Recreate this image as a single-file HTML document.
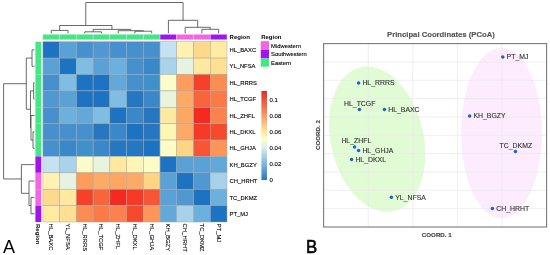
<!DOCTYPE html>
<html><head><meta charset="utf-8"><style>
html,body{margin:0;padding:0;background:#fff;}
body{width:550px;height:255px;overflow:hidden;font-family:"Liberation Sans",sans-serif;}
svg{display:block;position:absolute;left:0;top:0;will-change:transform;}
</style></head><body>
<svg width="550" height="255" viewBox="0 0 550 255">
<rect x="42.90" y="41.70" width="16.74" height="16.39" fill="#1c73c2" stroke="#a8a8a8" stroke-width="0.5"/>
<rect x="59.64" y="41.70" width="16.74" height="16.39" fill="#5aa2d6" stroke="#a8a8a8" stroke-width="0.5"/>
<rect x="76.37" y="41.70" width="16.74" height="16.39" fill="#4690cd" stroke="#a8a8a8" stroke-width="0.5"/>
<rect x="93.11" y="41.70" width="16.74" height="16.39" fill="#4f98d1" stroke="#a8a8a8" stroke-width="0.5"/>
<rect x="109.85" y="41.70" width="16.74" height="16.39" fill="#4690cd" stroke="#a8a8a8" stroke-width="0.5"/>
<rect x="126.58" y="41.70" width="16.74" height="16.39" fill="#4690cd" stroke="#a8a8a8" stroke-width="0.5"/>
<rect x="143.32" y="41.70" width="16.74" height="16.39" fill="#4690cd" stroke="#a8a8a8" stroke-width="0.5"/>
<rect x="160.05" y="41.70" width="16.74" height="16.39" fill="#c4e2f2" stroke="#a8a8a8" stroke-width="0.5"/>
<rect x="176.79" y="41.70" width="16.74" height="16.39" fill="#fff2b0" stroke="#a8a8a8" stroke-width="0.5"/>
<rect x="193.53" y="41.70" width="16.74" height="16.39" fill="#fed98a" stroke="#a8a8a8" stroke-width="0.5"/>
<rect x="210.26" y="41.70" width="16.74" height="16.39" fill="#ffeca2" stroke="#a8a8a8" stroke-width="0.5"/>
<rect x="42.90" y="58.09" width="16.74" height="16.39" fill="#5aa2d6" stroke="#a8a8a8" stroke-width="0.5"/>
<rect x="59.64" y="58.09" width="16.74" height="16.39" fill="#1c73c2" stroke="#a8a8a8" stroke-width="0.5"/>
<rect x="76.37" y="58.09" width="16.74" height="16.39" fill="#80bde3" stroke="#a8a8a8" stroke-width="0.5"/>
<rect x="93.11" y="58.09" width="16.74" height="16.39" fill="#5aa2d6" stroke="#a8a8a8" stroke-width="0.5"/>
<rect x="109.85" y="58.09" width="16.74" height="16.39" fill="#6cb0dd" stroke="#a8a8a8" stroke-width="0.5"/>
<rect x="126.58" y="58.09" width="16.74" height="16.39" fill="#4690cd" stroke="#a8a8a8" stroke-width="0.5"/>
<rect x="143.32" y="58.09" width="16.74" height="16.39" fill="#3a88c8" stroke="#a8a8a8" stroke-width="0.5"/>
<rect x="160.05" y="58.09" width="16.74" height="16.39" fill="#a9d3ea" stroke="#a8a8a8" stroke-width="0.5"/>
<rect x="176.79" y="58.09" width="16.74" height="16.39" fill="#e6f3e0" stroke="#a8a8a8" stroke-width="0.5"/>
<rect x="193.53" y="58.09" width="16.74" height="16.39" fill="#ffe8a0" stroke="#a8a8a8" stroke-width="0.5"/>
<rect x="210.26" y="58.09" width="16.74" height="16.39" fill="#fee094" stroke="#a8a8a8" stroke-width="0.5"/>
<rect x="42.90" y="74.48" width="16.74" height="16.39" fill="#4690cd" stroke="#a8a8a8" stroke-width="0.5"/>
<rect x="59.64" y="74.48" width="16.74" height="16.39" fill="#80bde3" stroke="#a8a8a8" stroke-width="0.5"/>
<rect x="76.37" y="74.48" width="16.74" height="16.39" fill="#1c73c2" stroke="#a8a8a8" stroke-width="0.5"/>
<rect x="93.11" y="74.48" width="16.74" height="16.39" fill="#1c73c2" stroke="#a8a8a8" stroke-width="0.5"/>
<rect x="109.85" y="74.48" width="16.74" height="16.39" fill="#62a8d9" stroke="#a8a8a8" stroke-width="0.5"/>
<rect x="126.58" y="74.48" width="16.74" height="16.39" fill="#4690cd" stroke="#a8a8a8" stroke-width="0.5"/>
<rect x="143.32" y="74.48" width="16.74" height="16.39" fill="#4090ca" stroke="#a8a8a8" stroke-width="0.5"/>
<rect x="160.05" y="74.48" width="16.74" height="16.39" fill="#fafcca" stroke="#a8a8a8" stroke-width="0.5"/>
<rect x="176.79" y="74.48" width="16.74" height="16.39" fill="#fd9c5c" stroke="#a8a8a8" stroke-width="0.5"/>
<rect x="193.53" y="74.48" width="16.74" height="16.39" fill="#f5402a" stroke="#a8a8a8" stroke-width="0.5"/>
<rect x="210.26" y="74.48" width="16.74" height="16.39" fill="#fc8d52" stroke="#a8a8a8" stroke-width="0.5"/>
<rect x="42.90" y="90.87" width="16.74" height="16.39" fill="#4f98d1" stroke="#a8a8a8" stroke-width="0.5"/>
<rect x="59.64" y="90.87" width="16.74" height="16.39" fill="#5aa2d6" stroke="#a8a8a8" stroke-width="0.5"/>
<rect x="76.37" y="90.87" width="16.74" height="16.39" fill="#1c73c2" stroke="#a8a8a8" stroke-width="0.5"/>
<rect x="93.11" y="90.87" width="16.74" height="16.39" fill="#1c73c2" stroke="#a8a8a8" stroke-width="0.5"/>
<rect x="109.85" y="90.87" width="16.74" height="16.39" fill="#80bde3" stroke="#a8a8a8" stroke-width="0.5"/>
<rect x="126.58" y="90.87" width="16.74" height="16.39" fill="#2677c1" stroke="#a8a8a8" stroke-width="0.5"/>
<rect x="143.32" y="90.87" width="16.74" height="16.39" fill="#3a88c8" stroke="#a8a8a8" stroke-width="0.5"/>
<rect x="160.05" y="90.87" width="16.74" height="16.39" fill="#e8f4dc" stroke="#a8a8a8" stroke-width="0.5"/>
<rect x="176.79" y="90.87" width="16.74" height="16.39" fill="#fdaa66" stroke="#a8a8a8" stroke-width="0.5"/>
<rect x="193.53" y="90.87" width="16.74" height="16.39" fill="#f9643a" stroke="#a8a8a8" stroke-width="0.5"/>
<rect x="210.26" y="90.87" width="16.74" height="16.39" fill="#fb7a48" stroke="#a8a8a8" stroke-width="0.5"/>
<rect x="42.90" y="107.26" width="16.74" height="16.39" fill="#4690cd" stroke="#a8a8a8" stroke-width="0.5"/>
<rect x="59.64" y="107.26" width="16.74" height="16.39" fill="#6cb0dd" stroke="#a8a8a8" stroke-width="0.5"/>
<rect x="76.37" y="107.26" width="16.74" height="16.39" fill="#62a8d9" stroke="#a8a8a8" stroke-width="0.5"/>
<rect x="93.11" y="107.26" width="16.74" height="16.39" fill="#80bde3" stroke="#a8a8a8" stroke-width="0.5"/>
<rect x="109.85" y="107.26" width="16.74" height="16.39" fill="#1c73c2" stroke="#a8a8a8" stroke-width="0.5"/>
<rect x="126.58" y="107.26" width="16.74" height="16.39" fill="#3a88c8" stroke="#a8a8a8" stroke-width="0.5"/>
<rect x="143.32" y="107.26" width="16.74" height="16.39" fill="#2677c1" stroke="#a8a8a8" stroke-width="0.5"/>
<rect x="160.05" y="107.26" width="16.74" height="16.39" fill="#ffe9a0" stroke="#a8a8a8" stroke-width="0.5"/>
<rect x="176.79" y="107.26" width="16.74" height="16.39" fill="#fda763" stroke="#a8a8a8" stroke-width="0.5"/>
<rect x="193.53" y="107.26" width="16.74" height="16.39" fill="#f42a20" stroke="#a8a8a8" stroke-width="0.5"/>
<rect x="210.26" y="107.26" width="16.74" height="16.39" fill="#fb824c" stroke="#a8a8a8" stroke-width="0.5"/>
<rect x="42.90" y="123.65" width="16.74" height="16.39" fill="#4690cd" stroke="#a8a8a8" stroke-width="0.5"/>
<rect x="59.64" y="123.65" width="16.74" height="16.39" fill="#4690cd" stroke="#a8a8a8" stroke-width="0.5"/>
<rect x="76.37" y="123.65" width="16.74" height="16.39" fill="#4690cd" stroke="#a8a8a8" stroke-width="0.5"/>
<rect x="93.11" y="123.65" width="16.74" height="16.39" fill="#2677c1" stroke="#a8a8a8" stroke-width="0.5"/>
<rect x="109.85" y="123.65" width="16.74" height="16.39" fill="#3a88c8" stroke="#a8a8a8" stroke-width="0.5"/>
<rect x="126.58" y="123.65" width="16.74" height="16.39" fill="#1c73c2" stroke="#a8a8a8" stroke-width="0.5"/>
<rect x="143.32" y="123.65" width="16.74" height="16.39" fill="#2677c1" stroke="#a8a8a8" stroke-width="0.5"/>
<rect x="160.05" y="123.65" width="16.74" height="16.39" fill="#fff6b4" stroke="#a8a8a8" stroke-width="0.5"/>
<rect x="176.79" y="123.65" width="16.74" height="16.39" fill="#fdaa66" stroke="#a8a8a8" stroke-width="0.5"/>
<rect x="193.53" y="123.65" width="16.74" height="16.39" fill="#f63a26" stroke="#a8a8a8" stroke-width="0.5"/>
<rect x="210.26" y="123.65" width="16.74" height="16.39" fill="#f64a2c" stroke="#a8a8a8" stroke-width="0.5"/>
<rect x="42.90" y="140.05" width="16.74" height="16.39" fill="#4690cd" stroke="#a8a8a8" stroke-width="0.5"/>
<rect x="59.64" y="140.05" width="16.74" height="16.39" fill="#3a88c8" stroke="#a8a8a8" stroke-width="0.5"/>
<rect x="76.37" y="140.05" width="16.74" height="16.39" fill="#4090ca" stroke="#a8a8a8" stroke-width="0.5"/>
<rect x="93.11" y="140.05" width="16.74" height="16.39" fill="#3a88c8" stroke="#a8a8a8" stroke-width="0.5"/>
<rect x="109.85" y="140.05" width="16.74" height="16.39" fill="#2677c1" stroke="#a8a8a8" stroke-width="0.5"/>
<rect x="126.58" y="140.05" width="16.74" height="16.39" fill="#2677c1" stroke="#a8a8a8" stroke-width="0.5"/>
<rect x="143.32" y="140.05" width="16.74" height="16.39" fill="#1c73c2" stroke="#a8a8a8" stroke-width="0.5"/>
<rect x="160.05" y="140.05" width="16.74" height="16.39" fill="#fdfcc4" stroke="#a8a8a8" stroke-width="0.5"/>
<rect x="176.79" y="140.05" width="16.74" height="16.39" fill="#fed585" stroke="#a8a8a8" stroke-width="0.5"/>
<rect x="193.53" y="140.05" width="16.74" height="16.39" fill="#f75535" stroke="#a8a8a8" stroke-width="0.5"/>
<rect x="210.26" y="140.05" width="16.74" height="16.39" fill="#fc9658" stroke="#a8a8a8" stroke-width="0.5"/>
<rect x="42.90" y="156.44" width="16.74" height="16.39" fill="#c4e2f2" stroke="#a8a8a8" stroke-width="0.5"/>
<rect x="59.64" y="156.44" width="16.74" height="16.39" fill="#a9d3ea" stroke="#a8a8a8" stroke-width="0.5"/>
<rect x="76.37" y="156.44" width="16.74" height="16.39" fill="#fafcca" stroke="#a8a8a8" stroke-width="0.5"/>
<rect x="93.11" y="156.44" width="16.74" height="16.39" fill="#e8f4dc" stroke="#a8a8a8" stroke-width="0.5"/>
<rect x="109.85" y="156.44" width="16.74" height="16.39" fill="#ffe9a0" stroke="#a8a8a8" stroke-width="0.5"/>
<rect x="126.58" y="156.44" width="16.74" height="16.39" fill="#fff6b4" stroke="#a8a8a8" stroke-width="0.5"/>
<rect x="143.32" y="156.44" width="16.74" height="16.39" fill="#fdfcc4" stroke="#a8a8a8" stroke-width="0.5"/>
<rect x="160.05" y="156.44" width="16.74" height="16.39" fill="#1c73c2" stroke="#a8a8a8" stroke-width="0.5"/>
<rect x="176.79" y="156.44" width="16.74" height="16.39" fill="#5aa2d6" stroke="#a8a8a8" stroke-width="0.5"/>
<rect x="193.53" y="156.44" width="16.74" height="16.39" fill="#5aa2d6" stroke="#a8a8a8" stroke-width="0.5"/>
<rect x="210.26" y="156.44" width="16.74" height="16.39" fill="#62a8d9" stroke="#a8a8a8" stroke-width="0.5"/>
<rect x="42.90" y="172.83" width="16.74" height="16.39" fill="#fff2b0" stroke="#a8a8a8" stroke-width="0.5"/>
<rect x="59.64" y="172.83" width="16.74" height="16.39" fill="#e6f3e0" stroke="#a8a8a8" stroke-width="0.5"/>
<rect x="76.37" y="172.83" width="16.74" height="16.39" fill="#fd9c5c" stroke="#a8a8a8" stroke-width="0.5"/>
<rect x="93.11" y="172.83" width="16.74" height="16.39" fill="#fdaa66" stroke="#a8a8a8" stroke-width="0.5"/>
<rect x="109.85" y="172.83" width="16.74" height="16.39" fill="#fda763" stroke="#a8a8a8" stroke-width="0.5"/>
<rect x="126.58" y="172.83" width="16.74" height="16.39" fill="#fdaa66" stroke="#a8a8a8" stroke-width="0.5"/>
<rect x="143.32" y="172.83" width="16.74" height="16.39" fill="#fed585" stroke="#a8a8a8" stroke-width="0.5"/>
<rect x="160.05" y="172.83" width="16.74" height="16.39" fill="#5aa2d6" stroke="#a8a8a8" stroke-width="0.5"/>
<rect x="176.79" y="172.83" width="16.74" height="16.39" fill="#1c73c2" stroke="#a8a8a8" stroke-width="0.5"/>
<rect x="193.53" y="172.83" width="16.74" height="16.39" fill="#4f98d1" stroke="#a8a8a8" stroke-width="0.5"/>
<rect x="210.26" y="172.83" width="16.74" height="16.39" fill="#a6d2ea" stroke="#a8a8a8" stroke-width="0.5"/>
<rect x="42.90" y="189.22" width="16.74" height="16.39" fill="#fed98a" stroke="#a8a8a8" stroke-width="0.5"/>
<rect x="59.64" y="189.22" width="16.74" height="16.39" fill="#ffe8a0" stroke="#a8a8a8" stroke-width="0.5"/>
<rect x="76.37" y="189.22" width="16.74" height="16.39" fill="#f5402a" stroke="#a8a8a8" stroke-width="0.5"/>
<rect x="93.11" y="189.22" width="16.74" height="16.39" fill="#f9643a" stroke="#a8a8a8" stroke-width="0.5"/>
<rect x="109.85" y="189.22" width="16.74" height="16.39" fill="#f42a20" stroke="#a8a8a8" stroke-width="0.5"/>
<rect x="126.58" y="189.22" width="16.74" height="16.39" fill="#f63a26" stroke="#a8a8a8" stroke-width="0.5"/>
<rect x="143.32" y="189.22" width="16.74" height="16.39" fill="#f75535" stroke="#a8a8a8" stroke-width="0.5"/>
<rect x="160.05" y="189.22" width="16.74" height="16.39" fill="#5aa2d6" stroke="#a8a8a8" stroke-width="0.5"/>
<rect x="176.79" y="189.22" width="16.74" height="16.39" fill="#4f98d1" stroke="#a8a8a8" stroke-width="0.5"/>
<rect x="193.53" y="189.22" width="16.74" height="16.39" fill="#1c73c2" stroke="#a8a8a8" stroke-width="0.5"/>
<rect x="210.26" y="189.22" width="16.74" height="16.39" fill="#6cb0dd" stroke="#a8a8a8" stroke-width="0.5"/>
<rect x="42.90" y="205.61" width="16.74" height="16.39" fill="#ffeca2" stroke="#a8a8a8" stroke-width="0.5"/>
<rect x="59.64" y="205.61" width="16.74" height="16.39" fill="#fee094" stroke="#a8a8a8" stroke-width="0.5"/>
<rect x="76.37" y="205.61" width="16.74" height="16.39" fill="#fc8d52" stroke="#a8a8a8" stroke-width="0.5"/>
<rect x="93.11" y="205.61" width="16.74" height="16.39" fill="#fb7a48" stroke="#a8a8a8" stroke-width="0.5"/>
<rect x="109.85" y="205.61" width="16.74" height="16.39" fill="#fb824c" stroke="#a8a8a8" stroke-width="0.5"/>
<rect x="126.58" y="205.61" width="16.74" height="16.39" fill="#f64a2c" stroke="#a8a8a8" stroke-width="0.5"/>
<rect x="143.32" y="205.61" width="16.74" height="16.39" fill="#fc9658" stroke="#a8a8a8" stroke-width="0.5"/>
<rect x="160.05" y="205.61" width="16.74" height="16.39" fill="#62a8d9" stroke="#a8a8a8" stroke-width="0.5"/>
<rect x="176.79" y="205.61" width="16.74" height="16.39" fill="#a6d2ea" stroke="#a8a8a8" stroke-width="0.5"/>
<rect x="193.53" y="205.61" width="16.74" height="16.39" fill="#6cb0dd" stroke="#a8a8a8" stroke-width="0.5"/>
<rect x="210.26" y="205.61" width="16.74" height="16.39" fill="#1c73c2" stroke="#a8a8a8" stroke-width="0.5"/>
<rect x="42.90" y="34.3" width="16.74" height="5.5" fill="#42e884" stroke="#e8e8e8" stroke-width="0.4"/>
<rect x="59.64" y="34.3" width="16.74" height="5.5" fill="#42e884" stroke="#e8e8e8" stroke-width="0.4"/>
<rect x="76.37" y="34.3" width="16.74" height="5.5" fill="#42e884" stroke="#e8e8e8" stroke-width="0.4"/>
<rect x="93.11" y="34.3" width="16.74" height="5.5" fill="#42e884" stroke="#e8e8e8" stroke-width="0.4"/>
<rect x="109.85" y="34.3" width="16.74" height="5.5" fill="#42e884" stroke="#e8e8e8" stroke-width="0.4"/>
<rect x="126.58" y="34.3" width="16.74" height="5.5" fill="#42e884" stroke="#e8e8e8" stroke-width="0.4"/>
<rect x="143.32" y="34.3" width="16.74" height="5.5" fill="#42e884" stroke="#e8e8e8" stroke-width="0.4"/>
<rect x="160.05" y="34.3" width="16.74" height="5.5" fill="#a114ef" stroke="#e8e8e8" stroke-width="0.4"/>
<rect x="176.79" y="34.3" width="16.74" height="5.5" fill="#f565e0" stroke="#e8e8e8" stroke-width="0.4"/>
<rect x="193.53" y="34.3" width="16.74" height="5.5" fill="#f565e0" stroke="#e8e8e8" stroke-width="0.4"/>
<rect x="210.26" y="34.3" width="16.74" height="5.5" fill="#a114ef" stroke="#e8e8e8" stroke-width="0.4"/>
<rect x="35.4" y="41.70" width="5.90" height="16.39" fill="#42e884"/>
<rect x="35.4" y="58.09" width="5.90" height="16.39" fill="#42e884"/>
<rect x="35.4" y="74.48" width="5.90" height="16.39" fill="#42e884"/>
<rect x="35.4" y="90.87" width="5.90" height="16.39" fill="#42e884"/>
<rect x="35.4" y="107.26" width="5.90" height="16.39" fill="#42e884"/>
<rect x="35.4" y="123.65" width="5.90" height="16.39" fill="#42e884"/>
<rect x="35.4" y="140.05" width="5.90" height="16.39" fill="#42e884"/>
<rect x="35.4" y="156.44" width="5.90" height="16.39" fill="#a114ef"/>
<rect x="35.4" y="172.83" width="5.90" height="16.39" fill="#f565e0"/>
<rect x="35.4" y="189.22" width="5.90" height="16.39" fill="#f565e0"/>
<rect x="35.4" y="205.61" width="5.90" height="16.39" fill="#a114ef"/>
<path d="M51.27 33.40V30.40H68.00V33.40" fill="none" stroke="#444444" stroke-width="0.8"/>
<path d="M84.74 33.40V31.80H101.48V33.40" fill="none" stroke="#444444" stroke-width="0.8"/>
<path d="M134.95 33.40V31.20H151.69V33.40" fill="none" stroke="#444444" stroke-width="0.8"/>
<path d="M118.21 33.40V30.70H143.32V31.20" fill="none" stroke="#444444" stroke-width="0.8"/>
<path d="M93.11 31.80V29.40H130.77V30.70" fill="none" stroke="#444444" stroke-width="0.8"/>
<path d="M59.64 30.40V25.50H111.94V29.40" fill="none" stroke="#444444" stroke-width="0.8"/>
<path d="M201.90 33.40V29.30H218.63V33.40" fill="none" stroke="#444444" stroke-width="0.8"/>
<path d="M185.16 33.40V27.30H210.26V29.30" fill="none" stroke="#444444" stroke-width="0.8"/>
<path d="M168.42 33.40V20.30H197.71V27.30" fill="none" stroke="#444444" stroke-width="0.8"/>
<path d="M85.79 25.50V2.50H183.07V20.30" fill="none" stroke="#444444" stroke-width="0.8"/>
<path d="M34.50 49.90H32.00V66.29H34.50" fill="none" stroke="#444444" stroke-width="0.8"/>
<path d="M34.50 82.68H33.70V99.07H34.50" fill="none" stroke="#444444" stroke-width="0.8"/>
<path d="M34.50 131.85H33.00V148.24H34.50" fill="none" stroke="#444444" stroke-width="0.8"/>
<path d="M34.50 115.46H31.00V140.05H33.00" fill="none" stroke="#444444" stroke-width="0.8"/>
<path d="M33.70 90.87H30.50V127.75H31.00" fill="none" stroke="#444444" stroke-width="0.8"/>
<path d="M32.00 58.09H26.30V109.31H30.50" fill="none" stroke="#444444" stroke-width="0.8"/>
<path d="M34.50 197.41H31.00V213.80H34.50" fill="none" stroke="#444444" stroke-width="0.8"/>
<path d="M34.50 181.02H29.00V205.61H31.00" fill="none" stroke="#444444" stroke-width="0.8"/>
<path d="M34.50 164.63H21.40V193.32H29.00" fill="none" stroke="#444444" stroke-width="0.8"/>
<path d="M26.30 83.70H3.60V178.97H21.40" fill="none" stroke="#444444" stroke-width="0.8"/>
<text x="229.5" y="52.00" font-size="5.85" fill="#000000" stroke="#000000" stroke-width="0.12" font-family="Liberation Sans, sans-serif">HL_BAXC</text>
<text x="229.5" y="68.39" font-size="5.85" fill="#000000" stroke="#000000" stroke-width="0.12" font-family="Liberation Sans, sans-serif">YL_NFSA</text>
<text x="229.5" y="84.78" font-size="5.85" fill="#000000" stroke="#000000" stroke-width="0.12" font-family="Liberation Sans, sans-serif">HL_RRRS</text>
<text x="229.5" y="101.17" font-size="5.85" fill="#000000" stroke="#000000" stroke-width="0.12" font-family="Liberation Sans, sans-serif">HL_TCGF</text>
<text x="229.5" y="117.56" font-size="5.85" fill="#000000" stroke="#000000" stroke-width="0.12" font-family="Liberation Sans, sans-serif">HL_ZHFL</text>
<text x="229.5" y="133.95" font-size="5.85" fill="#000000" stroke="#000000" stroke-width="0.12" font-family="Liberation Sans, sans-serif">HL_DKXL</text>
<text x="229.5" y="150.34" font-size="5.85" fill="#000000" stroke="#000000" stroke-width="0.12" font-family="Liberation Sans, sans-serif">HL_GHJA</text>
<text x="229.5" y="166.73" font-size="5.85" fill="#000000" stroke="#000000" stroke-width="0.12" font-family="Liberation Sans, sans-serif">KH_BGZY</text>
<text x="229.5" y="183.12" font-size="5.85" fill="#000000" stroke="#000000" stroke-width="0.12" font-family="Liberation Sans, sans-serif">CH_HRHT</text>
<text x="229.5" y="199.51" font-size="5.85" fill="#000000" stroke="#000000" stroke-width="0.12" font-family="Liberation Sans, sans-serif">TC_DKMZ</text>
<text x="229.5" y="215.90" font-size="5.85" fill="#000000" stroke="#000000" stroke-width="0.12" font-family="Liberation Sans, sans-serif">PT_MJ</text>
<text transform="translate(49.27 223.6) rotate(90)" x="0" y="0" font-size="5.9" fill="#000000" stroke="#000000" stroke-width="0.12" font-family="Liberation Sans, sans-serif">HL_BAXC</text>
<text transform="translate(66.00 223.6) rotate(90)" x="0" y="0" font-size="5.9" fill="#000000" stroke="#000000" stroke-width="0.12" font-family="Liberation Sans, sans-serif">YL_NFSA</text>
<text transform="translate(82.74 223.6) rotate(90)" x="0" y="0" font-size="5.9" fill="#000000" stroke="#000000" stroke-width="0.12" font-family="Liberation Sans, sans-serif">HL_RRRS</text>
<text transform="translate(99.48 223.6) rotate(90)" x="0" y="0" font-size="5.9" fill="#000000" stroke="#000000" stroke-width="0.12" font-family="Liberation Sans, sans-serif">HL_TCGF</text>
<text transform="translate(116.21 223.6) rotate(90)" x="0" y="0" font-size="5.9" fill="#000000" stroke="#000000" stroke-width="0.12" font-family="Liberation Sans, sans-serif">HL_ZHFL</text>
<text transform="translate(132.95 223.6) rotate(90)" x="0" y="0" font-size="5.9" fill="#000000" stroke="#000000" stroke-width="0.12" font-family="Liberation Sans, sans-serif">HL_DKXL</text>
<text transform="translate(149.69 223.6) rotate(90)" x="0" y="0" font-size="5.9" fill="#000000" stroke="#000000" stroke-width="0.12" font-family="Liberation Sans, sans-serif">HL_GHJA</text>
<text transform="translate(166.42 223.6) rotate(90)" x="0" y="0" font-size="5.9" fill="#000000" stroke="#000000" stroke-width="0.12" font-family="Liberation Sans, sans-serif">KH_BGZY</text>
<text transform="translate(183.16 223.6) rotate(90)" x="0" y="0" font-size="5.9" fill="#000000" stroke="#000000" stroke-width="0.12" font-family="Liberation Sans, sans-serif">CH_HRHT</text>
<text transform="translate(199.90 223.6) rotate(90)" x="0" y="0" font-size="5.9" fill="#000000" stroke="#000000" stroke-width="0.12" font-family="Liberation Sans, sans-serif">TC_DKMZ</text>
<text transform="translate(216.63 223.6) rotate(90)" x="0" y="0" font-size="5.9" fill="#000000" stroke="#000000" stroke-width="0.12" font-family="Liberation Sans, sans-serif">PT_MJ</text>
<text x="229.6" y="39.3" font-size="6" font-weight="bold" fill="#000000" font-family="Liberation Sans, sans-serif">Region</text>
<text transform="translate(36.1 224.0) rotate(90)" font-size="6" font-weight="bold" fill="#000000" font-family="Liberation Sans, sans-serif">Region</text>
<text x="261.2" y="39.3" font-size="6" font-weight="bold" fill="#000000" font-family="Liberation Sans, sans-serif">Region</text>
<rect x="260.8" y="41.20" width="8.2" height="8.5" fill="#f565e0"/>
<text x="271" y="47.60" font-size="5.85" fill="#000000" stroke="#000000" stroke-width="0.12" font-family="Liberation Sans, sans-serif">Midwestern</text>
<rect x="260.8" y="49.70" width="8.2" height="8.5" fill="#a114ef"/>
<text x="271" y="56.10" font-size="5.85" fill="#000000" stroke="#000000" stroke-width="0.12" font-family="Liberation Sans, sans-serif">Southwestern</text>
<rect x="260.8" y="58.20" width="8.2" height="8.5" fill="#42e884"/>
<text x="271" y="64.60" font-size="5.85" fill="#000000" stroke="#000000" stroke-width="0.12" font-family="Liberation Sans, sans-serif">Eastern</text>
<defs><linearGradient id="cb" x1="0" y1="1" x2="0" y2="0"><stop offset="0" stop-color="#2a78bc"/><stop offset="0.18" stop-color="#7ab8df"/><stop offset="0.37" stop-color="#dcefef"/><stop offset="0.46" stop-color="#ffffbf"/><stop offset="0.56" stop-color="#fee091"/><stop offset="0.75" stop-color="#fc8d59"/><stop offset="1" stop-color="#e42b25"/></linearGradient></defs>
<rect x="261.4" y="91" width="5.6" height="89" fill="url(#cb)"/>
<text x="269.6" y="101.50" font-size="6" fill="#000000" stroke="#000000" stroke-width="0.12" font-family="Liberation Sans, sans-serif">0.1</text>
<text x="269.6" y="117.54" font-size="6" fill="#000000" stroke="#000000" stroke-width="0.12" font-family="Liberation Sans, sans-serif">0.08</text>
<text x="269.6" y="133.58" font-size="6" fill="#000000" stroke="#000000" stroke-width="0.12" font-family="Liberation Sans, sans-serif">0.06</text>
<text x="269.6" y="149.62" font-size="6" fill="#000000" stroke="#000000" stroke-width="0.12" font-family="Liberation Sans, sans-serif">0.04</text>
<text x="269.6" y="165.66" font-size="6" fill="#000000" stroke="#000000" stroke-width="0.12" font-family="Liberation Sans, sans-serif">0.02</text>
<text x="269.6" y="181.70" font-size="6" fill="#000000" stroke="#000000" stroke-width="0.12" font-family="Liberation Sans, sans-serif">0</text>
<rect x="323.6" y="43.6" width="223.0" height="183.4" fill="#fff"/>
<ellipse cx="377.2" cy="139.2" rx="46.4" ry="73.9" transform="rotate(-13 377.2 139.2)" fill="#e1fcd5"/>
<ellipse cx="501.5" cy="133" rx="40.5" ry="85.2" fill="#fdebfe"/>
<line x1="368.20" y1="43.6" x2="368.20" y2="227.0" stroke="#e9e9e9" stroke-width="0.75"/>
<line x1="412.80" y1="43.6" x2="412.80" y2="227.0" stroke="#e9e9e9" stroke-width="0.75"/>
<line x1="457.40" y1="43.6" x2="457.40" y2="227.0" stroke="#e9e9e9" stroke-width="0.75"/>
<line x1="502.00" y1="43.6" x2="502.00" y2="227.0" stroke="#e9e9e9" stroke-width="0.75"/>
<line x1="323.6" y1="61.94" x2="546.6" y2="61.94" stroke="#e9e9e9" stroke-width="0.75"/>
<line x1="323.6" y1="80.28" x2="546.6" y2="80.28" stroke="#e9e9e9" stroke-width="0.75"/>
<line x1="323.6" y1="98.62" x2="546.6" y2="98.62" stroke="#e9e9e9" stroke-width="0.75"/>
<line x1="323.6" y1="116.96" x2="546.6" y2="116.96" stroke="#e9e9e9" stroke-width="0.75"/>
<line x1="323.6" y1="135.30" x2="546.6" y2="135.30" stroke="#e9e9e9" stroke-width="0.75"/>
<line x1="323.6" y1="153.64" x2="546.6" y2="153.64" stroke="#e9e9e9" stroke-width="0.75"/>
<line x1="323.6" y1="171.98" x2="546.6" y2="171.98" stroke="#e9e9e9" stroke-width="0.75"/>
<line x1="323.6" y1="190.32" x2="546.6" y2="190.32" stroke="#e9e9e9" stroke-width="0.75"/>
<line x1="323.6" y1="208.66" x2="546.6" y2="208.66" stroke="#e9e9e9" stroke-width="0.75"/>
<rect x="323.6" y="43.6" width="223.0" height="183.4" fill="none" stroke="#7a7a7a" stroke-width="1.1"/>
<circle cx="358.6" cy="83.0" r="1.75" fill="#1763d8"/>
<text x="362.40" y="85.20" font-size="6.9" fill="#333333" stroke="#333333" stroke-width="0.12" font-family="Liberation Sans, sans-serif">HL_RRRS</text>
<circle cx="359.4" cy="109.4" r="1.75" fill="#1763d8"/>
<text x="344.0" y="106.10" font-size="6.9" fill="#333333" stroke="#333333" stroke-width="0.12" font-family="Liberation Sans, sans-serif">HL_TCGF</text>
<circle cx="384.4" cy="109.6" r="1.75" fill="#1763d8"/>
<text x="388.20" y="111.80" font-size="6.9" fill="#333333" stroke="#333333" stroke-width="0.12" font-family="Liberation Sans, sans-serif">HL_BAXC</text>
<circle cx="354.6" cy="147.0" r="1.75" fill="#1763d8"/>
<text x="341.4" y="143.10" font-size="6.9" fill="#333333" stroke="#333333" stroke-width="0.12" font-family="Liberation Sans, sans-serif">HL_ZHFL</text>
<circle cx="358.6" cy="150.6" r="1.75" fill="#1763d8"/>
<text x="362.40" y="152.80" font-size="6.9" fill="#333333" stroke="#333333" stroke-width="0.12" font-family="Liberation Sans, sans-serif">HL_GHJA</text>
<circle cx="351.6" cy="159.5" r="1.75" fill="#1763d8"/>
<text x="355.40" y="161.70" font-size="6.9" fill="#333333" stroke="#333333" stroke-width="0.12" font-family="Liberation Sans, sans-serif">HL_DKXL</text>
<circle cx="391.4" cy="197.3" r="1.75" fill="#1763d8"/>
<text x="395.20" y="199.50" font-size="6.9" fill="#333333" stroke="#333333" stroke-width="0.12" font-family="Liberation Sans, sans-serif">YL_NFSA</text>
<circle cx="502.8" cy="57.0" r="1.75" fill="#1763d8"/>
<text x="506.60" y="59.20" font-size="6.9" fill="#333333" stroke="#333333" stroke-width="0.12" font-family="Liberation Sans, sans-serif">PT_MJ</text>
<circle cx="469.6" cy="116.0" r="1.75" fill="#1763d8"/>
<text x="473.40" y="118.20" font-size="6.9" fill="#333333" stroke="#333333" stroke-width="0.12" font-family="Liberation Sans, sans-serif">KH_BGZY</text>
<circle cx="515.4" cy="151.4" r="1.75" fill="#1763d8"/>
<text x="499.6" y="148.00" font-size="6.9" fill="#333333" stroke="#333333" stroke-width="0.12" font-family="Liberation Sans, sans-serif">TC_DKMZ</text>
<circle cx="492.4" cy="208.4" r="1.75" fill="#1763d8"/>
<text x="496.20" y="210.60" font-size="6.9" fill="#333333" stroke="#333333" stroke-width="0.12" font-family="Liberation Sans, sans-serif">CH_HRHT</text>
<text x="387" y="37.4" font-size="7.8" font-weight="bold" fill="#555" stroke="#555" stroke-width="0.15" textLength="107.8" lengthAdjust="spacingAndGlyphs" font-family="Liberation Sans, sans-serif">Principal Coordinates (PCoA)</text>
<text x="421.8" y="236.8" font-size="6.2" font-weight="bold" fill="#444" stroke="#444" stroke-width="0.15" font-family="Liberation Sans, sans-serif">COORD. 1</text>
<text transform="translate(319.6 150) rotate(-90)" font-size="6.2" font-weight="bold" fill="#444" stroke="#444" stroke-width="0.15" font-family="Liberation Sans, sans-serif">COORD. 2</text>
<text x="3.1" y="252.9" font-size="18" fill="#000" font-family="Liberation Sans, sans-serif">A</text>
<text x="306.0" y="252.9" font-size="18" fill="#000" stroke="#000" stroke-width="0.55" textLength="11.2" lengthAdjust="spacingAndGlyphs" font-family="Liberation Sans, sans-serif">B</text>
</svg>
</body></html>
